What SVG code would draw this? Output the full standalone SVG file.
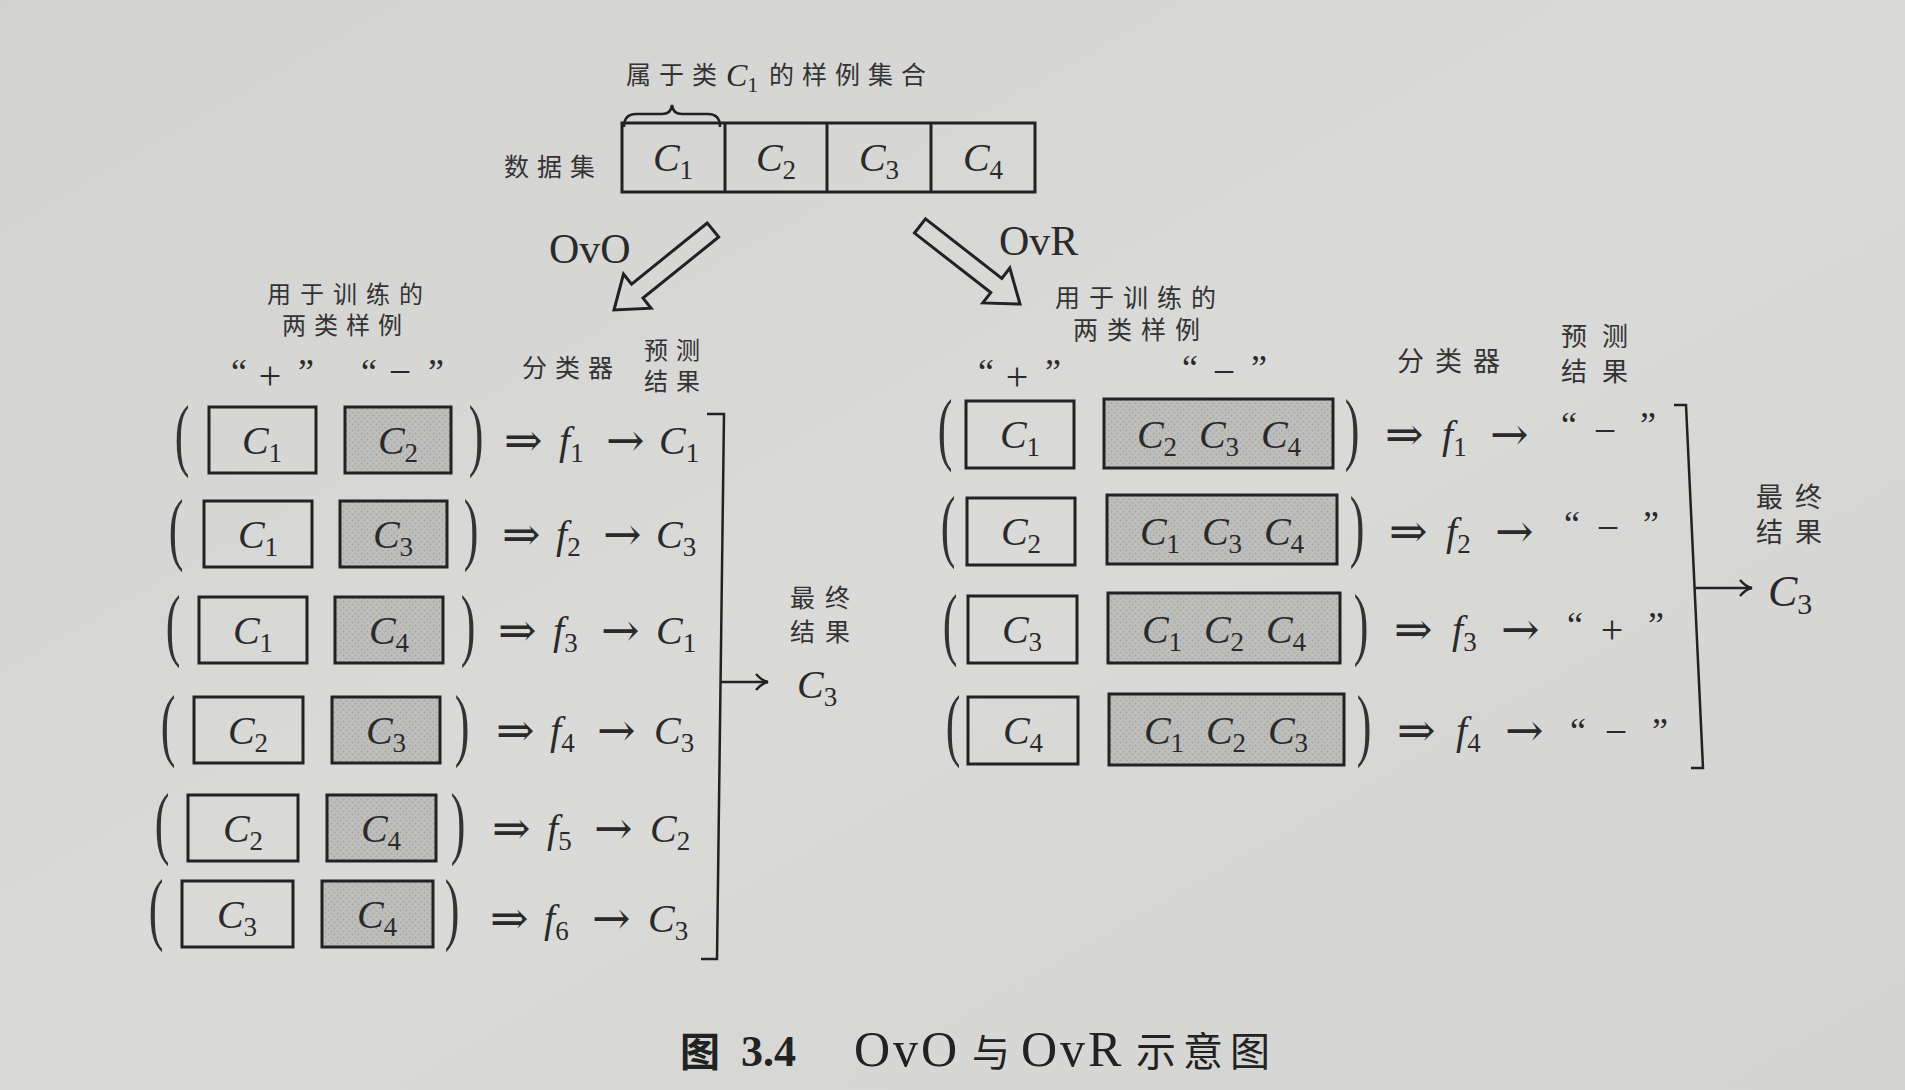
<svg xmlns="http://www.w3.org/2000/svg" width="1905" height="1090" viewBox="0 0 1905 1090">
<defs>
<linearGradient id="bg" x1="0" y1="0" x2="1" y2="1">
<stop offset="0" stop-color="#d2d2d0"/><stop offset="0.5" stop-color="#dadad8"/><stop offset="1" stop-color="#d3d3d1"/>
</linearGradient>
<pattern id="tex" width="6" height="6" patternUnits="userSpaceOnUse">
<rect width="6" height="6" fill="#bebebc"/><circle cx="1.5" cy="1.5" r="1" fill="#a8a8a6"/><circle cx="4.5" cy="4.5" r="1" fill="#a8a8a6"/>
</pattern>
<marker id="ah" viewBox="-14 -10 16 20" refX="0" refY="0" markerWidth="16" markerHeight="20" markerUnits="userSpaceOnUse" orient="auto">
<path d="M-12,-8 Q-6,-1 0,0 Q-6,1 -12,8" fill="none" stroke="#222" stroke-width="2.5"/>
</marker>
</defs>
<style>
.cjk{font-family:"Noto Sans CJK SC","Noto Sans CJK JP",sans-serif;font-size:25px;fill:#333;letter-spacing:8px}
.m{font-family:"Liberation Serif","DejaVu Serif",serif;font-size:40px;fill:#2a2a2a}
.i{font-style:italic}
.sub{font-size:27px;font-style:normal}
.sym{font-family:"DejaVu Serif",serif;font-size:46px;fill:#2a2a2a}
.q{font-family:"Liberation Serif",serif;font-size:36px;fill:#2a2a2a}
.box{fill:none;stroke:#222;stroke-width:3}
.gbox{fill:url(#tex);stroke:#222;stroke-width:3}
.ln{fill:none;stroke:#222;stroke-width:2.5}
.hol{fill:none;stroke:#222;stroke-width:3;stroke-linejoin:miter}
.par{font-family:"Liberation Serif",serif;font-size:80px;fill:#333}
.cap{font-family:"Liberation Serif",serif;font-size:50px;fill:#222}
</style>
<rect width="1905" height="1090" fill="url(#bg)"/>

<!-- dataset -->
<g id="dataset-label"><text class="cjk" x="504" y="176">数据集</text></g>
<g id="dataset">
<rect class="box" x="622" y="123" width="413" height="69"/>
<line class="box" x1="725" y1="123" x2="725" y2="192"/>
<line class="box" x1="827" y1="123" x2="827" y2="192"/>
<line class="box" x1="931" y1="123" x2="931" y2="192"/>
<text class="m" x="673" y="171" text-anchor="middle"><tspan class="i">C</tspan><tspan class="sub" dy="8">1</tspan></text>
<text class="m" x="776" y="171" text-anchor="middle"><tspan class="i">C</tspan><tspan class="sub" dy="8">2</tspan></text>
<text class="m" x="879" y="171" text-anchor="middle"><tspan class="i">C</tspan><tspan class="sub" dy="8">3</tspan></text>
<text class="m" x="983" y="171" text-anchor="middle"><tspan class="i">C</tspan><tspan class="sub" dy="8">4</tspan></text>
</g>
<g id="c1-set-label">
<text class="cjk" x="626" y="84">属于类</text>
<text class="m" x="726" y="86" style="font-size:32px"><tspan class="i">C</tspan><tspan style="font-size:22px" dy="6">1</tspan></text>
<text class="cjk" x="769" y="84">的样例集合</text>
<path class="ln" d="M624,127 Q624,114 636,114 L662,114 Q671,114 672,105 Q673,114 682,114 L708,114 Q720,114 720,127"/>
</g>

<!-- method labels -->
<g id="ovo-label"><text class="m" x="549" y="263" style="font-size:42px">OvO</text></g>
<g id="ovr-label"><text class="m" x="999" y="255" style="font-size:42px">OvR</text></g>

<!-- connectors -->
<g id="connectors">
<polygon class="hol" points="707.3,223 631.6,284.1 623.5,274 614,310 651.1,308.2 643,298.1 718.7,237"/>
<polygon class="hol" points="925.5,218.9 1001.8,278.4 1009.8,268.1 1020,304 982.8,302.9 990.8,292.6 914.5,233.1"/>
<path class="ln" d="M707,414 L724,414 L717,959 L701,959"/>
<line class="ln" x1="721" y1="682" x2="768" y2="682" marker-end="url(#ah)"/>
<path class="ln" d="M1674,405 L1686,405 L1703,768 L1691,768"/>
<line class="ln" x1="1695" y1="588" x2="1752" y2="588" marker-end="url(#ah)"/>
</g>

<!-- OvO headers -->
<g id="ovo-headers">
<text class="cjk" x="267" y="303" style="font-size:24px;letter-spacing:9px">用于训练的</text>
<text class="cjk" x="282" y="334" style="font-size:24px;letter-spacing:8px">两类样例</text>
<text class="q" x="231" y="384">“</text><text class="m" x="270" y="389" text-anchor="middle">+</text><text class="q" x="298" y="384">”</text>
<text class="q" x="361" y="384">“</text><text class="m" x="400" y="385" text-anchor="middle">−</text><text class="q" x="428" y="384">”</text>
<text class="cjk" x="522" y="377">分类器</text>
<text class="cjk" x="644" y="359" style="font-size:24px;letter-spacing:8px">预测</text>
<text class="cjk" x="644" y="390" style="font-size:24px;letter-spacing:8px">结果</text>
</g>

<!-- OvO rows -->
<g id="ovo-row1">
<text class="par" transform="translate(182,0) scale(0.55,1)" x="0" y="461" text-anchor="middle">(</text>
<g id="ovo-r1-pos"><rect class="box" x="209" y="407" width="107" height="66"/><text class="m" x="262" y="454" text-anchor="middle"><tspan class="i">C</tspan><tspan class="sub" dy="8">1</tspan></text></g>
<g id="ovo-r1-neg"><rect class="gbox" x="345" y="407" width="106" height="66"/><text class="m" x="398" y="454" text-anchor="middle"><tspan class="i">C</tspan><tspan class="sub" dy="8">2</tspan></text></g>
<text class="par" transform="translate(476,0) scale(0.55,1)" x="0" y="461" text-anchor="middle">)</text>
<text class="sym" x="504" y="456">⇒</text>
<text class="m" x="559" y="454"><tspan class="i">f</tspan><tspan class="sub" dy="8">1</tspan></text>
<text class="sym" x="606" y="456">→</text>
<text class="m" x="659" y="454"><tspan class="i">C</tspan><tspan class="sub" dy="8">1</tspan></text>
</g>
<g id="ovo-row2">
<text class="par" transform="translate(176,0) scale(0.55,1)" x="0" y="555" text-anchor="middle">(</text>
<g id="ovo-r2-pos"><rect class="box" x="204" y="501" width="108" height="66"/><text class="m" x="258" y="548" text-anchor="middle"><tspan class="i">C</tspan><tspan class="sub" dy="8">1</tspan></text></g>
<g id="ovo-r2-neg"><rect class="gbox" x="340" y="501" width="107" height="66"/><text class="m" x="393" y="548" text-anchor="middle"><tspan class="i">C</tspan><tspan class="sub" dy="8">3</tspan></text></g>
<text class="par" transform="translate(471,0) scale(0.55,1)" x="0" y="555" text-anchor="middle">)</text>
<text class="sym" x="502" y="550">⇒</text>
<text class="m" x="556" y="548"><tspan class="i">f</tspan><tspan class="sub" dy="8">2</tspan></text>
<text class="sym" x="603" y="550">→</text>
<text class="m" x="656" y="548"><tspan class="i">C</tspan><tspan class="sub" dy="8">3</tspan></text>
</g>
<g id="ovo-row3">
<text class="par" transform="translate(173,0) scale(0.55,1)" x="0" y="651" text-anchor="middle">(</text>
<g id="ovo-r3-pos"><rect class="box" x="199" y="597" width="108" height="66"/><text class="m" x="253" y="644" text-anchor="middle"><tspan class="i">C</tspan><tspan class="sub" dy="8">1</tspan></text></g>
<g id="ovo-r3-neg"><rect class="gbox" x="335" y="597" width="108" height="66"/><text class="m" x="389" y="644" text-anchor="middle"><tspan class="i">C</tspan><tspan class="sub" dy="8">4</tspan></text></g>
<text class="par" transform="translate(468,0) scale(0.55,1)" x="0" y="651" text-anchor="middle">)</text>
<text class="sym" x="498" y="646">⇒</text>
<text class="m" x="553" y="644"><tspan class="i">f</tspan><tspan class="sub" dy="8">3</tspan></text>
<text class="sym" x="601" y="646">→</text>
<text class="m" x="656" y="644"><tspan class="i">C</tspan><tspan class="sub" dy="8">1</tspan></text>
</g>
<g id="ovo-row4">
<text class="par" transform="translate(168,0) scale(0.55,1)" x="0" y="751" text-anchor="middle">(</text>
<g id="ovo-r4-pos"><rect class="box" x="194" y="697" width="109" height="66"/><text class="m" x="248" y="744" text-anchor="middle"><tspan class="i">C</tspan><tspan class="sub" dy="8">2</tspan></text></g>
<g id="ovo-r4-neg"><rect class="gbox" x="332" y="697" width="108" height="66"/><text class="m" x="386" y="744" text-anchor="middle"><tspan class="i">C</tspan><tspan class="sub" dy="8">3</tspan></text></g>
<text class="par" transform="translate(462,0) scale(0.55,1)" x="0" y="751" text-anchor="middle">)</text>
<text class="sym" x="496" y="746">⇒</text>
<text class="m" x="550" y="744"><tspan class="i">f</tspan><tspan class="sub" dy="8">4</tspan></text>
<text class="sym" x="597" y="746">→</text>
<text class="m" x="654" y="744"><tspan class="i">C</tspan><tspan class="sub" dy="8">3</tspan></text>
</g>
<g id="ovo-row5">
<text class="par" transform="translate(162,0) scale(0.55,1)" x="0" y="849" text-anchor="middle">(</text>
<g id="ovo-r5-pos"><rect class="box" x="188" y="795" width="110" height="66"/><text class="m" x="243" y="842" text-anchor="middle"><tspan class="i">C</tspan><tspan class="sub" dy="8">2</tspan></text></g>
<g id="ovo-r5-neg"><rect class="gbox" x="327" y="795" width="109" height="66"/><text class="m" x="381" y="842" text-anchor="middle"><tspan class="i">C</tspan><tspan class="sub" dy="8">4</tspan></text></g>
<text class="par" transform="translate(458,0) scale(0.55,1)" x="0" y="849" text-anchor="middle">)</text>
<text class="sym" x="492" y="844">⇒</text>
<text class="m" x="547" y="842"><tspan class="i">f</tspan><tspan class="sub" dy="8">5</tspan></text>
<text class="sym" x="594" y="844">→</text>
<text class="m" x="650" y="842"><tspan class="i">C</tspan><tspan class="sub" dy="8">2</tspan></text>
</g>
<g id="ovo-row6">
<text class="par" transform="translate(156,0) scale(0.55,1)" x="0" y="935" text-anchor="middle">(</text>
<g id="ovo-r6-pos"><rect class="box" x="182" y="881" width="111" height="66"/><text class="m" x="237" y="928" text-anchor="middle"><tspan class="i">C</tspan><tspan class="sub" dy="8">3</tspan></text></g>
<g id="ovo-r6-neg"><rect class="gbox" x="322" y="881" width="111" height="66"/><text class="m" x="377" y="928" text-anchor="middle"><tspan class="i">C</tspan><tspan class="sub" dy="8">4</tspan></text></g>
<text class="par" transform="translate(452,0) scale(0.55,1)" x="0" y="935" text-anchor="middle">)</text>
<text class="sym" x="490" y="934">⇒</text>
<text class="m" x="544" y="932"><tspan class="i">f</tspan><tspan class="sub" dy="8">6</tspan></text>
<text class="sym" x="592" y="934">→</text>
<text class="m" x="648" y="932"><tspan class="i">C</tspan><tspan class="sub" dy="8">3</tspan></text>
</g>
<g id="ovo-final">
<text class="cjk" x="790" y="607" style="letter-spacing:10px">最终</text>
<text class="cjk" x="790" y="641" style="letter-spacing:10px">结果</text>
<text class="m" x="797" y="698"><tspan class="i">C</tspan><tspan class="sub" dy="8">3</tspan></text>
</g>

<!-- OvR headers -->
<g id="ovr-headers">
<text class="cjk" x="1055" y="307" style="font-size:25px;letter-spacing:9px">用于训练的</text>
<text class="cjk" x="1073" y="339" style="font-size:25px;letter-spacing:9px">两类样例</text>
<text class="q" x="978" y="384">“</text><text class="m" x="1017" y="390" text-anchor="middle">+</text><text class="q" x="1045" y="384">”</text>
<text class="q" x="1182" y="380">“</text><text class="m" x="1224" y="385" text-anchor="middle">−</text><text class="q" x="1251" y="380">”</text>
<text class="cjk" x="1397" y="371" style="font-size:27px;letter-spacing:11px">分类器</text>
<text class="cjk" x="1561" y="346" style="font-size:26px;letter-spacing:15px">预测</text>
<text class="cjk" x="1561" y="381" style="font-size:26px;letter-spacing:15px">结果</text>
</g>

<!-- OvR rows -->
<g id="ovr-row1">
<text class="par" transform="translate(945,0) scale(0.55,1)" x="0" y="455" text-anchor="middle">(</text>
<g id="ovr-r1-pos"><rect class="box" x="966" y="401" width="108" height="67"/><text class="m" x="1020" y="448" text-anchor="middle"><tspan class="i">C</tspan><tspan class="sub" dy="8">1</tspan></text></g>
<g id="ovr-r1-neg"><rect class="gbox" x="1104" y="399" width="229" height="69"/>
<text class="m" x="1157" y="448" text-anchor="middle"><tspan class="i">C</tspan><tspan class="sub" dy="8">2</tspan></text>
<text class="m" x="1219" y="448" text-anchor="middle"><tspan class="i">C</tspan><tspan class="sub" dy="8">3</tspan></text>
<text class="m" x="1281" y="448" text-anchor="middle"><tspan class="i">C</tspan><tspan class="sub" dy="8">4</tspan></text></g>
<text class="par" transform="translate(1352,0) scale(0.55,1)" x="0" y="455" text-anchor="middle">)</text>
<text class="sym" x="1385" y="450">⇒</text>
<text class="m" x="1442" y="448"><tspan class="i">f</tspan><tspan class="sub" dy="8">1</tspan></text>
<text class="sym" x="1490" y="450">→</text>
<text class="q" x="1561" y="437">“</text><text class="m" x="1605" y="444" text-anchor="middle">−</text><text class="q" x="1640" y="437">”</text>
</g>
<g id="ovr-row2">
<text class="par" transform="translate(948,0) scale(0.55,1)" x="0" y="552" text-anchor="middle">(</text>
<g id="ovr-r2-pos"><rect class="box" x="967" y="498" width="108" height="67"/><text class="m" x="1021" y="545" text-anchor="middle"><tspan class="i">C</tspan><tspan class="sub" dy="8">2</tspan></text></g>
<g id="ovr-r2-neg"><rect class="gbox" x="1107" y="495" width="230" height="69"/>
<text class="m" x="1160" y="545" text-anchor="middle"><tspan class="i">C</tspan><tspan class="sub" dy="8">1</tspan></text>
<text class="m" x="1222" y="545" text-anchor="middle"><tspan class="i">C</tspan><tspan class="sub" dy="8">3</tspan></text>
<text class="m" x="1284" y="545" text-anchor="middle"><tspan class="i">C</tspan><tspan class="sub" dy="8">4</tspan></text></g>
<text class="par" transform="translate(1357,0) scale(0.55,1)" x="0" y="552" text-anchor="middle">)</text>
<text class="sym" x="1389" y="547">⇒</text>
<text class="m" x="1446" y="545"><tspan class="i">f</tspan><tspan class="sub" dy="8">2</tspan></text>
<text class="sym" x="1495" y="547">→</text>
<text class="q" x="1564" y="536">“</text><text class="m" x="1608" y="541" text-anchor="middle">−</text><text class="q" x="1643" y="536">”</text>
</g>
<g id="ovr-row3">
<text class="par" transform="translate(950,0) scale(0.55,1)" x="0" y="650" text-anchor="middle">(</text>
<g id="ovr-r3-pos"><rect class="box" x="968" y="596" width="109" height="67"/><text class="m" x="1022" y="643" text-anchor="middle"><tspan class="i">C</tspan><tspan class="sub" dy="8">3</tspan></text></g>
<g id="ovr-r3-neg"><rect class="gbox" x="1108" y="593" width="232" height="70"/>
<text class="m" x="1162" y="643" text-anchor="middle"><tspan class="i">C</tspan><tspan class="sub" dy="8">1</tspan></text>
<text class="m" x="1224" y="643" text-anchor="middle"><tspan class="i">C</tspan><tspan class="sub" dy="8">2</tspan></text>
<text class="m" x="1286" y="643" text-anchor="middle"><tspan class="i">C</tspan><tspan class="sub" dy="8">4</tspan></text></g>
<text class="par" transform="translate(1361,0) scale(0.55,1)" x="0" y="650" text-anchor="middle">)</text>
<text class="sym" x="1394" y="645">⇒</text>
<text class="m" x="1452" y="643"><tspan class="i">f</tspan><tspan class="sub" dy="8">3</tspan></text>
<text class="sym" x="1501" y="645">→</text>
<text class="q" x="1567" y="637">“</text><text class="m" x="1612" y="643" text-anchor="middle">+</text><text class="q" x="1648" y="637">”</text>
</g>
<g id="ovr-row4">
<text class="par" transform="translate(953,0) scale(0.55,1)" x="0" y="751" text-anchor="middle">(</text>
<g id="ovr-r4-pos"><rect class="box" x="968" y="697" width="110" height="67"/><text class="m" x="1023" y="744" text-anchor="middle"><tspan class="i">C</tspan><tspan class="sub" dy="8">4</tspan></text></g>
<g id="ovr-r4-neg"><rect class="gbox" x="1109" y="694" width="235" height="71"/>
<text class="m" x="1164" y="744" text-anchor="middle"><tspan class="i">C</tspan><tspan class="sub" dy="8">1</tspan></text>
<text class="m" x="1226" y="744" text-anchor="middle"><tspan class="i">C</tspan><tspan class="sub" dy="8">2</tspan></text>
<text class="m" x="1288" y="744" text-anchor="middle"><tspan class="i">C</tspan><tspan class="sub" dy="8">3</tspan></text></g>
<text class="par" transform="translate(1364,0) scale(0.55,1)" x="0" y="751" text-anchor="middle">)</text>
<text class="sym" x="1397" y="746">⇒</text>
<text class="m" x="1456" y="744"><tspan class="i">f</tspan><tspan class="sub" dy="8">4</tspan></text>
<text class="sym" x="1505" y="746">→</text>
<text class="q" x="1570" y="743">“</text><text class="m" x="1616" y="745" text-anchor="middle">−</text><text class="q" x="1652" y="743">”</text>
</g>
<g id="ovr-final">
<text class="cjk" x="1756" y="507" style="font-size:27px;letter-spacing:12px">最终</text>
<text class="cjk" x="1756" y="542" style="font-size:27px;letter-spacing:12px">结果</text>
<text class="m" x="1768" y="606" style="font-size:44px"><tspan class="i">C</tspan><tspan class="sub" dy="8" style="font-size:30px">3</tspan></text>
</g>

<!-- caption -->
<g id="caption">
<text x="680" y="1066" style="font-family:'Noto Sans CJK SC',sans-serif;font-size:40px;font-weight:bold;fill:#222">图</text>
<text class="cap" x="741" y="1066" style="font-weight:bold;font-size:44px">3.4</text>
<text class="cap" x="854" y="1066" style="letter-spacing:3px">OvO</text>
<text x="972" y="1066" style="font-family:'Noto Sans CJK SC',sans-serif;font-size:38px;fill:#222">与</text>
<text class="cap" x="1021" y="1066" style="letter-spacing:3px">OvR</text>
<text x="1136" y="1066" style="font-family:'Noto Sans CJK SC',sans-serif;font-size:40px;fill:#222;letter-spacing:7px">示意图</text>
</g>
</svg>
